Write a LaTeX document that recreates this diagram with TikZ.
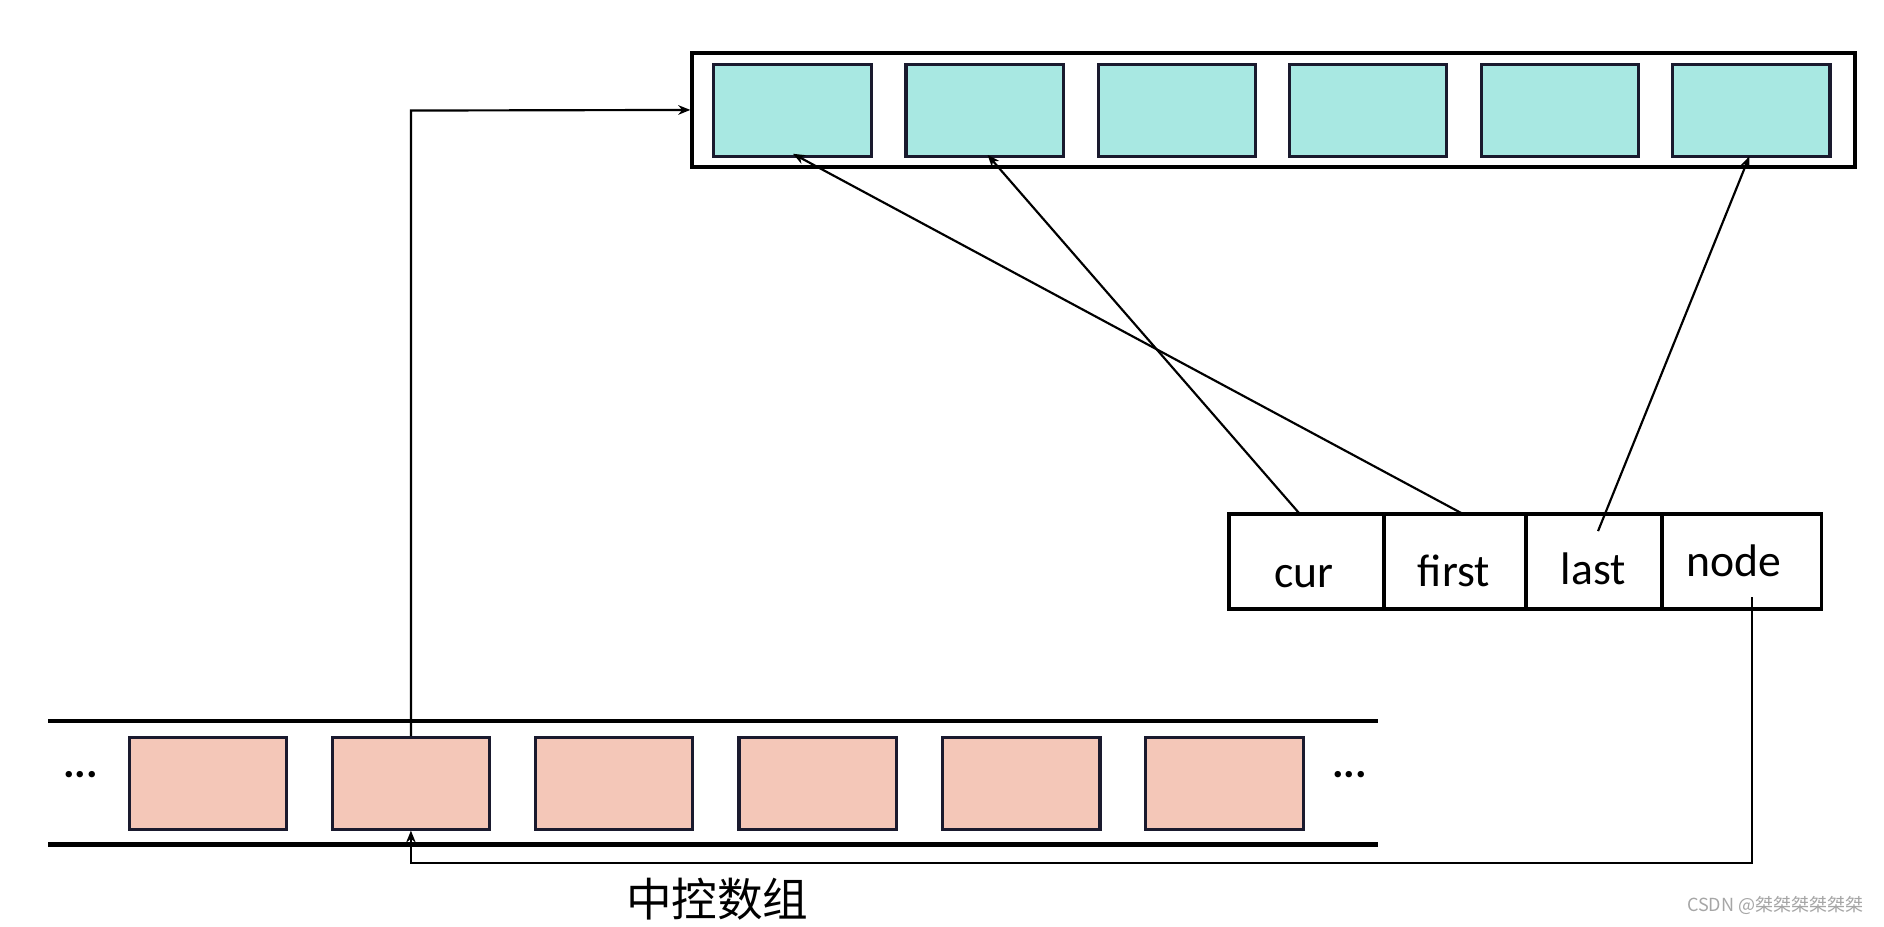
\documentclass[tikz,border=0pt]{standalone}
\usepackage{fontspec}
\setmainfont{Carlito}
\newfontfamily\cjk{Noto Sans CJK SC}
\usetikzlibrary{arrows.meta}
\definecolor{cy}{HTML}{A8E8E2}
\definecolor{pk}{HTML}{F4C7B8}
\definecolor{bd}{HTML}{1A1A2E}
\begin{document}
\begin{tikzpicture}[x=0.5pt,y=-0.5pt,
  cell/.style={draw=bd,line width=1.3pt,minimum width=65.5pt,minimum height=38pt,inner sep=0},
  cyc/.style={cell,fill=cy},
  pkc/.style={cell,fill=pk},
  lnk/.style={line width=0.9pt,-{Stealth[length=5pt,width=4pt]}},
  lbl/.style={font=\fontsize{19}{19}\selectfont}]
\useasboundingbox (0,0) rectangle (1568,771);
\node[draw,line width=1.5pt,minimum width=484pt,minimum height=47.5pt,inner sep=0] (buf) at (1060,91.5) {};
\foreach \i/\x in {1/659.5,2/819.5,3/979.5,4/1138.5,5/1298.5,6/1457.5}
  \node[cyc] (c\i) at (\x,92) {};
\draw[line width=2pt] (40,600) -- (1147,600) (40,703) -- (1147,703);
\foreach \i/\x in {1/173,2/342,3/511,4/680.5,5/850,6/1019}
  \node[pkc] (p\i) at (\x,652) {};
\node[font=\fontsize{18}{18}\selectfont\bfseries] (d1) at (67,645) {...};
\node[font=\fontsize{18}{18}\selectfont\bfseries] (d2) at (1123,645) {...};
\node[draw,line width=1.5pt,minimum width=64.5pt,minimum height=39.5pt,inner sep=0] (cur) at (1087.5,467.5) {};
\node[draw,line width=1.5pt,minimum width=59pt,minimum height=39.5pt,inner sep=0] (first) at (1211,467.5) {};
\node[draw,line width=1.5pt,minimum width=56.5pt,minimum height=39.5pt,inner sep=0] (last) at (1326.5,467.5) {};
\node[draw,line width=1.5pt,minimum width=66.5pt,minimum height=39.5pt,inner sep=0] (nd) at (1449.5,467.5) {};
\node[lbl] (tcur) at (1085,480) {cur};
\node[lbl] (tfirst) at (1210,475) {first};
\node[lbl] (tlast) at (1326,473) {last};
\node[lbl] (tnode) at (1443,467) {node};
\coordinate (a1) at (342,92);
\draw[lnk] (p2.north) -- (a1) -- (buf.west);
\draw[lnk] (1082,428) -- (822,129);
\draw[lnk] (1218,428) -- (660,128);
\draw[lnk] (1330,442) -- (1456,130);
\coordinate (b1) at (1458,718);
\coordinate (b2) at (342,718);
\draw[lnk] (1458,497) -- (b1) -- (b2) -- (p2.south);
\node[font=\cjk\fontsize{19}{19}\selectfont] (lab) at (597,748) {中控数组};
\node[font=\cjk\fontsize{7.5}{8}\selectfont,text=gray!70,anchor=east] (wm) at (1558,754) {CSDN @桀桀桀桀桀桀};
\end{tikzpicture}
\end{document}
